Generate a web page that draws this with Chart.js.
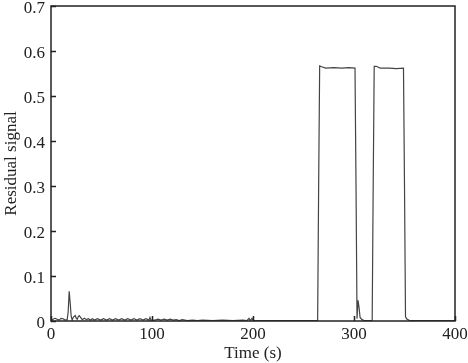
<!DOCTYPE html>
<html>
<head>
<meta charset="utf-8">
<script src="https://cdn.jsdelivr.net/npm/chart.js@4/dist/chart.umd.min.js"></script>
<style>
  html, body { margin: 0; padding: 0; background: #fff; }
  #wrap { width: 468px; height: 363px; }
</style>
</head>
<body>
<div id="wrap"><canvas id="residual-chart"></canvas></div>
<script>
// time axis (s) and residual signal
const timeS = [0, 2, 4, 6, 8, 10, 12, 14, 16, 17, 18, 19, 20, 21, 22, 24, 25, 26, 27, 28,
  30, 31, 33, 35, 37, 39, 41, 43, 46, 49, 52, 55, 58, 61, 64, 67, 70, 73, 76, 79,
  82, 85, 88, 91, 94, 97, 98, 99, 103, 106, 109, 112, 115, 118, 121, 124, 127, 130,
  135, 140, 145, 150, 160, 170, 180, 190, 194, 196, 197, 199, 200, 205, 230, 264,
  265, 266, 268, 272, 280, 288, 295, 301, 302, 303, 304, 305, 306, 308, 310, 318,
  319, 320, 322, 326, 335, 342, 349, 350, 351, 352, 355, 400]
const residual = [0.000, 0.004, 0.006, 0.004, 0.002, 0.006, 0.005, 0.002, 0.003, 0.020, 0.066, 0.040, 0.010, 0.002, 0.008, 0.012, 0.006, 0.004, 0.010, 0.012,
  0.006, 0.003, 0.006, 0.003, 0.005, 0.002, 0.005, 0.002, 0.005, 0.002, 0.005, 0.002, 0.005, 0.002, 0.005, 0.002, 0.005, 0.002, 0.005, 0.002,
  0.005, 0.002, 0.005, 0.002, 0.005, 0.002, 0.008, 0.002, 0.002, 0.004, 0.002, 0.004, 0.002, 0.004, 0.002, 0.003, 0.001, 0.003,
  0.001, 0.002, 0.001, 0.002, 0.001, 0.002, 0.001, 0.002, 0.001, 0.006, 0.001, 0.006, 0.001, 0.001, 0.001, 0.001,
  0.300, 0.567, 0.565, 0.562, 0.563, 0.562, 0.563, 0.562, 0.300, 0.005, 0.046, 0.030, 0.008, 0.003, 0.001, 0.001,
  0.300, 0.566, 0.566, 0.562, 0.562, 0.561, 0.562, 0.300, 0.010, 0.005, 0.001, 0.001]

const xTicks = [0, 100, 200, 300, 400]
const yTicks = [0, 0.1, 0.2, 0.3, 0.4, 0.5, 0.6, 0.7]

const serif = "'Liberation Serif', 'DejaVu Serif', serif"
const ink = '#222'

// box frame + inward tick marks on left and bottom
const frame = {
  id: 'frame',
  afterDraw (chart) {
    const { ctx, chartArea: a, scales } = chart
    ctx.save()
    ctx.strokeStyle = ink
    ctx.lineWidth = 1.5
    ctx.strokeRect(a.left, a.top, a.right - a.left, a.bottom - a.top)
    ctx.beginPath()
    yTicks.forEach(v => {
      const y = Math.round(scales.y.getPixelForValue(v)) + 0.5
      ctx.moveTo(a.left, y); ctx.lineTo(a.left + 5, y)
    })
    xTicks.forEach(v => {
      const x = Math.round(scales.x.getPixelForValue(v)) + 0.5
      ctx.moveTo(x, a.bottom); ctx.lineTo(x, a.bottom - 5)
    })
    ctx.stroke()
    ctx.restore()
  }
}

new Chart(document.getElementById('residual-chart'), {
  type: 'line',
  data: {
    datasets: [{
      data: timeS.map((t, i) => ({ x: t, y: residual[i] })),
      borderColor: '#444',
      borderWidth: 1.2,
      pointRadius: 0,
      tension: 0,
      fill: false
    }]
  },
  options: {
    responsive: true,
    maintainAspectRatio: false,
    animation: false,
    layout: { padding: { top: 6, right: 13, left: 2, bottom: 0 } },
    plugins: { legend: { display: false }, tooltip: { enabled: false } },
    scales: {
      x: {
        type: 'linear',
        min: 0,
        max: 400,
        afterBuildTicks: (s) => { s.ticks = xTicks.map(v => ({ value: v })) },
        afterFit: (s) => { s.height = 42; s.paddingLeft = 0; s.paddingRight = 0 },
        grid: { display: false, drawTicks: false },
        border: { display: false },
        ticks: { color: ink, font: { family: serif, size: 17, lineHeight: 1.1 }, padding: 4, maxRotation: 0 },
        title: { display: true, text: 'Time (s)', color: ink, font: { family: serif, size: 17, lineHeight: 1.1 }, padding: 0 }
      },
      y: {
        min: 0,
        max: 0.7,
        afterBuildTicks: (s) => { s.ticks = yTicks.map(v => ({ value: v })) },
        afterFit: (s) => { s.width = 49; s.paddingTop = 0; s.paddingBottom = 0 },
        grid: { display: false, drawTicks: false },
        border: { display: false },
        ticks: { color: ink, font: { family: serif, size: 17, lineHeight: 0.05 }, padding: 6, labelOffset: 3,
          callback: (v) => v === 0 ? '0' : v.toFixed(1) },
        title: { display: true, text: 'Residual signal', color: ink, font: { family: serif, size: 17, lineHeight: 1.1 }, padding: 0 }
      }
    }
  },
  plugins: [frame]
})
</script>
</body>
</html>
